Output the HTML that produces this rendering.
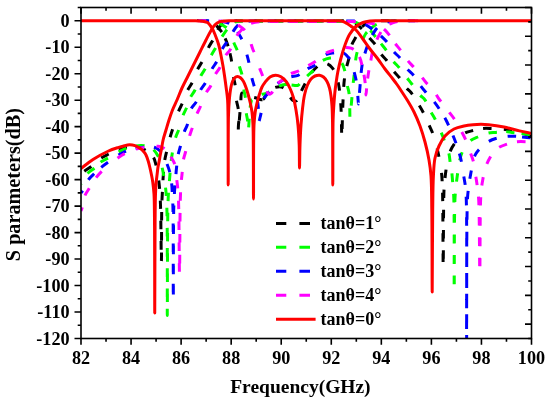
<!DOCTYPE html>
<html><head><meta charset="utf-8"><style>
html,body{margin:0;padding:0;background:#fff;width:550px;height:400px;overflow:hidden}
svg{display:block}
</style></head><body>
<svg width="550" height="400" viewBox="0 0 550 400">
<rect width="550" height="400" fill="#fff"/>
<clipPath id="pc"><rect x="81.0" y="4.5" width="450.5" height="334.0"/></clipPath>
<g clip-path="url(#pc)" fill="none" stroke-linejoin="round"><path id="k21" d="M81.00,173.50C82.10,172.73 82.96,172.12 84.30,171.20C86.37,169.77 89.58,167.85 92.25,165.80C95.22,163.51 98.27,160.05 101.25,158.00C103.77,156.27 106.07,155.36 108.75,154.00C111.77,152.47 115.41,150.44 118.50,149.30C121.12,148.33 123.53,147.75 126.00,147.30C128.36,146.87 130.67,146.57 133.00,146.60C135.34,146.63 137.81,146.83 140.00,147.50C142.14,148.15 144.24,149.42 146.00,150.50C147.52,151.44 148.76,152.38 150.00,153.50C151.26,154.63 152.58,155.70 153.50,157.25C154.59,159.08 155.10,161.64 155.75,164.00C156.45,166.54 157.00,169.28 157.50,172.00C158.01,174.78 158.39,177.58 158.75,180.50C159.13,183.57 159.43,186.47 159.70,190.00C160.04,194.43 160.27,198.41 160.50,205.00C160.94,217.73 161.18,261.00 161.40,261.00C161.62,261.00 161.46,217.73 161.80,205.00C161.98,198.41 162.25,194.91 162.50,190.00C162.74,185.25 162.89,180.80 163.25,176.00C163.63,170.90 164.02,164.92 164.75,160.25C165.35,156.45 166.18,153.58 167.00,150.00C167.91,146.04 168.84,141.65 170.00,137.50C171.17,133.31 172.61,129.24 174.00,125.00C175.44,120.58 176.92,115.44 178.50,111.50C179.78,108.30 181.14,106.13 182.50,103.00C184.13,99.26 185.68,94.21 187.50,90.50C189.06,87.33 190.94,85.17 192.50,82.00C194.32,78.29 195.68,73.21 197.50,69.50C199.06,66.33 200.87,64.19 202.50,61.00C204.46,57.17 206.26,51.89 208.25,48.00C209.95,44.67 212.03,41.78 213.50,39.00C214.72,36.68 215.57,34.59 216.60,32.50C217.57,30.53 218.35,28.41 219.50,26.80C220.52,25.37 221.61,24.08 223.00,23.20C224.43,22.30 226.17,21.88 228.00,21.50C230.11,21.06 232.86,20.99 235.00,20.90C236.80,20.82 237.47,20.90 240.00,20.90C248.01,20.90 273.33,20.90 290.00,20.90C306.67,20.90 331.99,20.90 340.00,20.90C342.53,20.90 343.21,20.70 345.00,20.90C347.15,21.14 349.80,21.71 352.00,22.50C354.13,23.26 356.13,24.22 358.00,25.50C359.97,26.85 361.72,28.60 363.50,30.50C365.48,32.62 367.28,35.40 369.25,37.75C371.20,40.07 373.43,41.99 375.25,44.50C377.21,47.20 378.54,50.80 380.50,53.50C382.32,56.01 384.54,57.67 386.50,60.25C388.80,63.29 390.95,67.71 393.25,70.75C395.21,73.33 397.27,74.96 399.25,77.50C401.53,80.44 403.79,84.82 406.00,87.50C407.69,89.55 409.26,90.34 411.00,92.50C413.52,95.63 416.83,101.41 419.00,105.00C420.60,107.65 421.59,109.27 423.00,112.00C424.87,115.63 427.21,121.06 429.00,125.00C430.48,128.27 431.77,130.62 433.00,134.00C434.49,138.11 435.94,143.83 437.00,148.00C437.84,151.32 438.35,153.58 439.00,157.00C439.85,161.46 440.92,167.16 441.50,172.50C442.11,178.14 442.24,182.11 442.50,190.00C443.04,206.42 442.95,266.00 443.20,266.00C443.45,266.00 443.31,204.18 444.00,190.00C444.27,184.47 444.64,182.04 445.00,178.50C445.31,175.45 445.55,173.01 446.00,170.00C446.51,166.56 447.25,162.28 448.00,159.00C448.61,156.30 448.94,154.20 450.00,151.70C451.25,148.73 453.13,145.44 455.40,142.50C457.92,139.24 461.60,135.11 464.70,133.20C467.00,131.78 469.02,131.61 471.60,130.90C474.80,130.02 479.00,128.88 482.50,128.50C485.68,128.15 488.46,128.39 491.70,128.50C495.34,128.63 499.92,128.99 503.30,129.30C505.93,129.54 507.74,129.63 510.30,130.10C513.51,130.69 517.36,131.68 521.00,132.80C524.92,134.01 529.00,135.73 533.00,137.20" stroke="#000" stroke-width="3" stroke-dasharray="0.00 4.00 8.50 13.00 8.50 11.00 8.50 10.88 8.50 10.88 8.50 15.25 8.50 11.67 8.50 11.67 8.50 11.67 8.50 11.67 8.50 11.67 8.50 11.67 8.50 11.67 8.50 11.67 8.50 11.67 8.50 15.00 8.50 18.75 8.50 14.75 8.50 14.50 8.50 15.50 8.50 11.72 8.50 11.72 8.50 11.72 8.50 11.72 8.50 11.72 8.50 11.72 8.50 11.72 8.50 11.72 8.50 11.72 8.50 12.00 8.50 13.00 8.50 12.50 8.50 12.75 8.50 13.75 8.50 16.00 8.50 16.25 8.50 11.64 8.50 11.64 8.50 11.64 8.50 11.64 8.50 11.64 8.50 11.64 8.50 11.64 8.50 11.64 8.50 11.64 8.50 18.75 8.50 15.50 8.50 10.00 8.50 12.25 8.50 12.00 8.50 12.00 8.50 12.00"/>
<path id="k11" d="M190.00,20.75C196.00,20.75 204.20,20.04 208.00,20.75C209.86,21.10 210.70,21.56 212.00,22.30C213.46,23.12 214.98,24.40 216.25,25.60C217.47,26.74 218.45,28.04 219.50,29.30C220.54,30.54 221.56,31.62 222.50,33.10C223.63,34.89 224.66,37.17 225.60,39.40C226.61,41.79 227.49,44.34 228.30,47.00C229.17,49.85 229.97,53.08 230.60,56.00C231.19,58.73 231.57,61.00 232.00,64.00C232.55,67.80 232.88,73.08 233.50,77.00C234.02,80.29 234.83,82.62 235.30,86.00C235.90,90.27 235.90,96.57 236.50,100.60C236.93,103.50 237.66,105.41 238.10,108.00C238.58,110.82 239.16,114.06 239.20,116.90C239.24,119.50 238.65,121.98 238.50,124.40C238.36,126.67 238.22,131.00 238.30,131.00C238.41,131.01 239.11,122.41 239.50,118.00C239.91,113.42 240.27,108.38 240.70,104.00C241.08,100.11 240.68,93.86 241.90,93.00C242.44,92.62 243.21,93.21 244.00,93.50C245.14,93.91 246.65,94.91 248.00,95.50C249.32,96.07 250.63,96.58 252.00,97.00C253.38,97.42 254.89,97.57 256.25,98.00C257.56,98.41 258.80,99.27 260.00,99.50C261.04,99.70 262.11,99.98 263.00,99.50C264.20,98.86 264.87,96.46 266.00,95.00C267.19,93.46 268.49,91.76 270.00,90.50C271.49,89.26 273.15,88.09 275.00,87.50C276.96,86.88 279.66,86.55 281.50,87.00C283.07,87.39 284.26,88.25 285.50,89.50C287.18,91.20 288.58,94.91 290.00,96.90C291.04,98.36 291.87,99.85 293.00,100.50C293.91,101.02 295.12,101.41 296.00,101.00C297.22,100.44 298.11,97.67 299.00,96.00C299.85,94.42 300.43,92.94 301.25,91.25C302.20,89.30 303.11,87.40 304.40,85.00C306.21,81.65 308.98,76.24 311.25,73.10C312.93,70.78 314.53,69.11 316.25,67.50C317.79,66.06 319.21,64.42 321.00,63.80C322.77,63.18 325.06,63.13 326.90,63.75C328.92,64.43 331.07,66.31 332.50,68.10C333.93,69.89 334.57,72.12 335.50,74.50C336.60,77.32 337.74,80.55 338.50,84.00C339.38,87.96 339.76,92.50 340.20,97.00C340.67,101.81 340.94,106.36 341.20,112.00C341.53,119.27 341.57,137.00 341.80,137.00C342.03,137.00 342.32,119.53 342.60,112.00C342.83,105.79 343.00,100.49 343.30,95.00C343.58,89.84 343.72,84.76 344.30,80.00C344.83,75.63 345.68,71.25 346.50,67.50C347.19,64.38 347.99,62.20 348.75,59.00C349.73,54.92 350.29,49.00 351.75,45.00C352.94,41.72 354.87,39.08 356.25,36.50C357.42,34.32 358.32,32.31 359.50,30.50C360.58,28.84 361.69,27.24 363.00,26.00C364.21,24.85 365.53,23.90 367.00,23.20C368.52,22.48 370.12,22.18 372.00,21.80C374.34,21.33 376.73,21.01 380.00,20.80C385.16,20.47 393.33,20.77 400.00,20.75" stroke="#000" stroke-width="3" stroke-dasharray="0.00 7.25 8.50 12.00 8.50 7.12 8.50 7.12 8.50 15.50 8.50 15.50 8.50 12.00 8.50 12.00 8.50 12.00 8.50 12.00 8.50 0.75 8.50 9.00 8.50 11.75 8.50 10.25 8.50 12.25 8.50 11.25 8.50 13.50 8.50 12.46 8.50 12.46 8.50 12.46 8.50 12.46 8.50 12.46 8.50 12.46 8.50 13.75 8.50 12.00 8.50 12.00 8.50 12.00 8.50 12.00"/>
<path id="g21" d="M81.00,184.00C82.00,182.00 82.82,179.85 84.00,178.00C85.16,176.19 86.31,174.64 88.00,173.00C90.11,170.95 93.78,168.98 96.00,167.00C97.80,165.39 98.64,163.64 100.50,162.20C102.73,160.48 105.90,159.31 108.75,157.70C111.88,155.93 115.43,153.61 118.50,152.00C121.13,150.62 123.51,149.43 126.00,148.50C128.34,147.63 130.57,147.00 133.00,146.50C135.56,145.98 138.42,145.48 141.00,145.50C143.41,145.52 145.87,145.75 148.00,146.50C150.02,147.21 151.84,148.21 153.50,149.75C155.49,151.59 157.40,154.63 158.75,157.25C160.03,159.73 160.75,162.37 161.50,165.00C162.25,167.62 162.72,170.25 163.25,173.00C163.81,175.90 164.30,178.92 164.75,182.00C165.22,185.24 165.66,188.05 166.00,192.00C166.49,197.71 166.76,203.36 167.00,213.00C167.54,234.29 167.17,315.50 167.30,315.50C167.43,315.50 167.39,234.29 167.80,213.00C167.98,203.36 168.15,198.02 168.50,192.00C168.77,187.44 169.17,184.00 169.50,180.00C169.83,176.00 170.10,172.08 170.50,168.00C170.92,163.75 171.26,159.61 172.00,155.00C172.85,149.70 174.11,142.72 175.50,138.00C176.54,134.48 177.86,132.33 179.00,129.00C180.37,124.98 181.63,119.15 183.00,115.50C183.98,112.90 184.94,111.52 186.00,109.00C187.42,105.63 188.90,100.39 190.60,97.00C191.96,94.28 193.54,92.83 195.00,90.00C197.01,86.10 198.92,79.55 201.00,75.50C202.62,72.36 204.42,70.50 206.00,67.50C207.87,63.96 209.39,59.16 211.25,55.50C212.91,52.23 214.75,49.56 216.50,46.50C218.30,43.36 220.01,39.93 221.90,36.90C223.69,34.03 225.67,31.13 227.50,28.75C229.03,26.76 230.06,24.78 232.00,23.50C234.13,22.09 237.62,21.36 240.00,21.00C241.84,20.72 242.44,21.00 245.00,21.00C253.49,21.00 282.59,21.00 300.00,21.00C315.75,21.00 337.50,21.00 345.00,21.00C347.50,21.00 348.16,20.74 350.00,21.00C352.38,21.33 355.57,22.32 358.00,23.30C360.19,24.19 362.02,25.35 364.00,26.50C366.02,27.67 368.24,28.74 370.00,30.25C371.74,31.74 372.91,33.58 374.50,35.50C376.37,37.76 378.50,40.50 380.50,43.00C382.50,45.50 384.58,47.77 386.50,50.50C388.60,53.48 390.30,57.30 392.50,60.25C394.57,63.02 396.99,65.04 399.25,67.75C401.74,70.74 404.47,74.55 406.75,77.50C408.65,79.96 410.08,81.73 412.00,84.25C414.40,87.41 417.55,92.16 420.00,95.00C421.78,97.06 423.42,97.81 425.00,100.00C427.17,103.01 429.16,108.56 431.00,112.00C432.43,114.67 433.59,116.27 435.00,119.00C436.87,122.63 439.57,128.67 441.00,132.00C441.88,134.04 442.18,134.85 443.00,137.00C444.45,140.82 447.55,148.27 448.75,153.00C449.67,156.60 449.76,159.74 450.25,162.75C450.67,165.35 451.14,167.38 451.50,170.00C451.92,173.06 452.17,176.18 452.50,180.00C452.94,185.12 453.48,189.67 453.80,198.00C454.52,216.80 454.00,290.00 454.20,290.00C454.40,290.00 454.08,216.04 455.00,198.00C455.39,190.46 455.97,186.71 456.50,182.00C456.92,178.27 457.31,175.41 457.80,172.00C458.31,168.42 458.69,164.48 459.50,161.00C460.26,157.74 461.17,154.35 462.40,151.70C463.42,149.49 464.71,147.81 466.00,146.00C467.28,144.21 468.33,142.34 470.10,140.90C472.13,139.25 475.02,138.22 477.80,137.00C480.90,135.63 484.72,133.95 487.90,133.20C490.60,132.56 492.86,132.65 495.60,132.40C498.71,132.11 502.67,131.53 505.60,131.60C507.92,131.66 509.53,132.13 511.80,132.40C514.56,132.73 517.73,133.00 521.00,133.40C524.74,133.85 529.00,134.47 533.00,135.00" stroke="#00ff00" stroke-width="3" stroke-dasharray="0.50 12.00 8.50 8.75 8.50 12.25 8.50 10.00 8.50 10.00 8.50 11.69 8.50 11.69 8.50 11.69 8.50 11.69 8.50 11.69 8.50 11.69 8.50 11.69 8.50 11.69 8.50 11.69 8.50 11.69 8.50 11.69 8.50 11.69 8.50 11.69 8.50 11.69 8.50 11.69 8.50 11.69 8.50 15.00 8.50 15.25 8.50 11.50 8.50 14.75 8.50 14.75 8.50 13.00 8.50 11.19 8.50 11.19 8.50 11.19 8.50 11.19 8.50 11.19 8.50 11.19 8.50 11.19 8.50 11.19 8.50 8.50 8.50 13.50 8.50 13.00 8.50 13.00 8.50 12.00 8.50 14.00 8.50 13.75 8.50 11.94 8.50 11.94 8.50 11.94 8.50 11.94 8.50 11.94 8.50 11.94 8.50 11.94 8.50 11.94 8.50 11.94 8.50 11.94 8.50 11.94 8.50 11.94 8.50 13.00 8.50 14.50 8.50 11.00 8.50 9.25 8.50 7.00 8.50 12.00 8.50 12.00"/>
<path id="g11" d="M190.00,20.75C197.33,20.80 207.65,20.15 212.00,20.90C213.91,21.23 214.67,21.80 216.00,22.30C217.34,22.80 218.68,23.29 220.00,23.90C221.35,24.52 222.70,25.19 224.00,26.00C225.36,26.85 226.82,27.63 228.00,28.90C229.37,30.37 230.57,32.39 231.50,34.50C232.55,36.86 232.80,39.81 233.75,42.50C234.77,45.38 236.58,47.87 237.50,51.25C238.66,55.51 238.49,62.04 239.40,66.25C240.08,69.41 241.23,71.24 241.90,74.40C242.80,78.61 243.04,85.00 243.75,89.40C244.31,92.89 245.18,95.29 245.60,98.75C246.11,102.98 245.81,109.10 246.25,113.00C246.56,115.76 247.17,117.45 247.50,120.00C247.89,123.03 248.01,130.00 248.30,130.00C248.66,130.00 249.10,119.49 249.50,115.00C249.83,111.33 249.98,107.82 250.50,105.00C250.89,102.88 251.11,100.18 252.00,99.50C252.53,99.10 253.30,99.71 254.00,99.50C254.94,99.22 255.92,98.25 257.00,97.50C258.30,96.59 259.69,95.07 261.25,94.40C262.78,93.75 264.58,94.13 266.25,93.50C268.17,92.77 269.99,91.17 272.00,90.00C274.15,88.75 276.49,87.18 278.75,86.25C280.82,85.40 282.90,84.70 285.00,84.50C287.07,84.30 289.13,84.87 291.25,85.00C293.46,85.14 296.17,86.05 298.00,85.30C299.70,84.60 300.58,82.45 302.00,81.00C303.53,79.44 305.16,77.89 306.90,76.25C308.83,74.43 311.22,72.60 313.10,70.60C314.91,68.67 316.32,66.24 318.00,64.50C319.47,62.98 320.69,61.63 322.50,60.60C324.59,59.41 327.61,58.41 330.00,58.10C332.08,57.83 334.13,57.81 336.00,58.50C338.02,59.25 340.17,60.83 341.60,62.70C343.16,64.74 343.84,67.43 344.70,70.50C345.86,74.64 346.44,81.64 347.25,85.50C347.77,87.96 348.37,89.31 348.75,91.50C349.20,94.07 349.42,97.05 349.60,100.00C349.79,103.19 349.73,106.85 349.80,110.00C349.86,112.82 349.83,117.99 350.00,118.00C350.17,118.01 350.53,112.82 350.80,110.00C351.10,106.85 351.38,103.67 351.70,100.00C352.10,95.51 352.51,89.82 353.00,85.00C353.45,80.51 353.99,76.56 354.50,72.00C355.07,66.94 355.40,60.39 356.25,56.00C356.86,52.85 357.49,50.62 358.50,48.00C359.55,45.28 361.26,42.48 362.50,40.00C363.57,37.86 364.26,35.78 365.50,34.00C366.69,32.29 368.21,30.94 369.75,29.50C371.36,28.00 373.10,26.36 375.00,25.20C376.86,24.07 378.76,23.29 381.00,22.60C383.66,21.78 386.39,21.25 390.00,20.90C395.33,20.38 403.33,20.80 410.00,20.75" stroke="#00ff00" stroke-width="3" stroke-dasharray="0.00 9.25 8.50 12.00 8.50 16.75 8.50 16.25 8.50 15.00 8.50 15.50 8.50 11.17 8.50 11.17 8.50 11.17 8.50 11.00 8.50 4.25 8.50 11.00 8.50 13.75 8.50 12.75 8.50 15.00 8.50 14.00 8.50 14.00 8.50 14.00 8.50 14.00 8.50 14.00 8.50 4.00 8.50 12.00 8.50 12.00 8.50 12.00 8.50 12.00"/>
<path id="b21" d="M81.00,193.00C81.67,192.00 82.19,191.34 83.00,190.00C84.51,187.51 86.76,181.99 89.00,179.00C90.84,176.54 92.96,174.95 95.00,173.00C97.04,171.05 99.02,169.13 101.25,167.30C103.59,165.38 106.07,163.67 108.75,161.75C111.77,159.59 115.41,156.88 118.50,155.00C121.12,153.40 123.49,152.05 126.00,151.00C128.33,150.02 130.57,149.38 133.00,148.80C135.56,148.19 138.25,147.88 141.00,147.50C143.91,147.10 147.26,146.29 150.00,146.50C152.36,146.68 154.53,147.21 156.50,148.25C158.55,149.34 160.40,150.87 162.00,153.00C164.06,155.75 165.62,160.48 167.00,164.00C168.22,167.12 169.25,169.97 170.00,173.00C170.74,175.97 171.11,178.71 171.50,182.00C171.96,185.93 172.15,190.51 172.40,195.00C172.66,199.82 172.85,202.91 173.00,210.00C173.37,227.27 173.18,299.00 173.30,299.00C173.42,299.00 173.25,228.40 173.70,210.00C173.90,201.72 174.16,197.39 174.50,192.00C174.78,187.59 175.17,184.00 175.50,180.00C175.83,176.00 176.07,172.13 176.50,168.00C176.97,163.57 177.46,158.23 178.25,154.25C178.87,151.13 179.66,149.13 180.50,146.00C181.60,141.90 182.90,135.58 184.25,131.75C185.20,129.04 186.30,127.79 187.25,125.00C188.69,120.80 189.33,112.88 191.25,108.75C192.62,105.81 194.80,104.62 196.25,101.90C198.02,98.58 198.86,93.42 200.60,90.00C202.06,87.11 203.94,85.44 205.60,82.50C207.74,78.72 209.85,72.89 212.00,69.00C213.74,65.85 215.64,63.82 217.25,60.75C219.09,57.25 220.45,52.27 222.20,49.00C223.57,46.44 224.98,44.92 226.50,42.50C228.36,39.54 230.53,35.49 232.50,32.50C234.19,29.95 235.58,27.31 237.50,25.60C239.15,24.13 240.99,23.25 243.00,22.50C245.14,21.71 247.85,21.31 250.00,21.10C251.80,20.92 252.50,21.10 255.00,21.10C262.50,21.10 284.60,21.10 300.00,21.10C316.23,21.10 341.99,21.10 350.00,21.10C352.53,21.10 353.21,20.86 355.00,21.10C357.16,21.39 360.02,22.25 362.00,23.00C363.55,23.59 364.68,24.26 366.00,25.00C367.35,25.76 368.50,26.53 370.00,27.50C371.97,28.77 374.88,30.52 376.75,32.00C378.24,33.18 379.12,34.16 380.50,35.50C382.28,37.22 384.54,39.16 386.50,41.50C388.81,44.27 390.86,48.39 393.25,51.25C395.39,53.81 397.88,55.37 400.00,58.00C402.42,61.01 404.33,65.49 406.75,68.50C408.87,71.13 411.39,72.68 413.50,75.25C415.84,78.10 417.81,82.01 420.00,85.00C421.98,87.71 423.82,89.92 426.00,92.50C428.44,95.39 431.60,98.48 434.00,101.50C436.23,104.31 438.05,107.01 440.00,110.00C442.06,113.16 443.98,116.11 446.00,120.00C448.63,125.06 451.71,132.23 454.00,138.00C456.06,143.18 457.94,148.61 459.25,153.00C460.25,156.36 460.82,158.64 461.50,162.00C462.35,166.19 463.07,172.04 463.75,176.25C464.29,179.59 464.85,181.87 465.25,185.25C465.76,189.55 466.03,192.56 466.30,200.00C467.14,223.07 466.42,342.00 466.60,342.00C466.78,342.00 466.37,221.31 467.40,200.00C467.70,193.79 468.07,191.68 468.50,188.00C468.87,184.85 469.28,182.12 469.75,179.25C470.20,176.46 470.72,173.95 471.25,171.00C471.86,167.60 472.26,163.14 473.20,160.00C473.95,157.50 474.95,155.28 476.00,153.50C476.83,152.09 477.59,151.22 478.70,150.00C480.12,148.43 482.26,146.48 484.00,145.00C485.55,143.68 486.82,142.53 488.60,141.50C490.67,140.31 493.08,139.31 495.80,138.50C499.12,137.51 503.66,136.74 507.20,136.40C510.23,136.11 513.09,136.17 515.70,136.30C517.93,136.41 519.53,136.76 521.90,137.00C525.06,137.32 529.30,137.67 533.00,138.00" stroke="#0000ff" stroke-width="3" stroke-dasharray="3.00 12.00 8.50 9.50 8.50 12.75 8.50 10.00 8.50 10.00 8.50 13.75 8.50 11.55 8.50 11.55 8.50 11.55 8.50 11.55 8.50 11.55 8.50 11.55 8.50 11.55 8.50 11.55 8.50 11.55 8.50 11.55 8.50 11.55 8.50 11.55 8.50 11.55 8.50 11.55 8.50 14.75 8.50 15.75 8.50 12.50 8.50 15.50 8.50 14.00 8.50 11.75 8.50 11.06 8.50 11.06 8.50 11.06 8.50 11.06 8.50 11.06 8.50 11.06 8.50 11.06 8.50 11.06 8.50 12.25 8.50 13.75 8.50 12.75 8.50 12.25 8.50 10.75 8.50 10.75 8.50 10.75 8.50 15.00 8.50 12.06 8.50 12.06 8.50 12.06 8.50 12.06 8.50 12.06 8.50 12.06 8.50 12.06 8.50 12.06 8.50 12.06 8.50 12.06 8.50 12.06 8.50 12.06 8.50 12.06 8.50 12.06 8.50 12.06 8.50 12.06 8.50 14.25 8.50 12.75 8.50 11.00 8.50 6.00 8.50 12.00 8.50 12.00"/>
<path id="b11" d="M190.00,20.75C200.00,20.83 213.84,20.31 220.00,21.00C222.79,21.31 224.12,21.69 226.00,22.30C227.77,22.88 229.55,23.54 231.00,24.50C232.36,25.40 233.43,26.59 234.50,27.80C235.60,29.05 236.42,30.24 237.50,31.90C239.01,34.23 241.11,37.46 242.50,40.60C243.98,43.96 244.94,47.91 246.00,51.50C247.02,54.97 247.87,57.96 248.75,61.80C249.85,66.57 250.81,73.42 251.90,78.00C252.71,81.43 253.59,83.76 254.40,86.90C255.30,90.39 256.33,94.31 257.00,98.00C257.65,101.60 258.11,104.97 258.40,108.75C258.72,112.93 258.17,121.93 258.70,122.00C259.03,122.04 259.72,118.87 260.20,117.00C260.80,114.66 261.34,111.82 261.90,109.00C262.52,105.86 262.60,101.70 263.75,99.00C264.66,96.85 266.13,95.41 267.50,93.75C268.88,92.08 270.40,90.60 272.00,89.00C273.72,87.27 275.60,85.29 277.50,83.75C279.28,82.31 281.28,81.01 283.00,80.00C284.41,79.17 285.62,78.55 287.00,78.00C288.37,77.45 289.66,77.10 291.25,76.70C293.23,76.21 295.99,76.23 298.00,75.40C299.88,74.62 301.38,73.11 303.00,72.00C304.54,70.95 305.77,69.92 307.50,68.90C309.64,67.64 312.85,66.69 315.00,65.20C316.95,63.85 318.30,62.16 320.00,60.50C321.83,58.71 323.39,56.07 325.60,54.80C327.77,53.55 330.73,53.28 333.10,52.90C335.17,52.57 337.14,52.47 339.00,52.50C340.67,52.53 342.40,52.39 343.75,53.00C345.05,53.59 346.01,55.01 347.00,56.00C347.91,56.91 348.74,57.58 349.50,58.70C350.46,60.11 351.28,62.04 352.00,64.00C352.82,66.25 353.33,68.86 354.00,71.50C354.74,74.43 355.68,77.54 356.25,80.80C356.87,84.34 357.18,88.58 357.50,92.00C357.77,94.89 357.91,97.79 358.10,100.00C358.24,101.56 358.35,104.00 358.50,104.00C358.71,104.00 358.95,98.94 359.20,96.00C359.51,92.40 359.87,88.00 360.20,84.00C360.53,80.00 360.73,75.99 361.20,72.00C361.67,67.99 362.28,63.29 363.00,60.00C363.52,57.64 364.11,56.07 364.75,54.00C365.44,51.75 366.16,49.17 367.00,47.00C367.76,45.03 368.65,43.37 369.50,41.50C370.39,39.54 371.27,37.41 372.25,35.50C373.19,33.67 374.09,31.81 375.25,30.25C376.35,28.77 377.56,27.42 379.00,26.30C380.47,25.16 382.09,24.32 384.00,23.50C386.31,22.50 388.60,21.54 392.00,21.00C397.64,20.11 407.33,20.83 415.00,20.75" stroke="#0000ff" stroke-width="3" stroke-dasharray="0.00 10.50 8.50 12.00 8.50 12.00 8.50 16.25 8.50 15.50 8.50 14.42 8.50 14.42 8.50 14.42 8.50 11.75 8.50 7.00 8.50 10.00 8.50 14.75 8.50 9.75 8.50 14.00 8.50 15.25 8.50 11.31 8.50 11.31 8.50 11.31 8.50 11.31 8.50 12.00 8.50 12.00 8.50 12.00 8.50 12.00"/>
<path id="m21" d="M81.00,211.00C81.33,210.00 81.61,209.35 82.00,208.00C82.78,205.27 83.58,199.01 85.00,195.50C86.14,192.67 87.64,190.91 89.25,188.30C91.21,185.11 93.70,180.85 96.00,177.80C97.96,175.20 99.84,173.02 102.00,171.00C104.10,169.04 106.32,167.77 108.75,165.80C111.73,163.39 115.37,159.75 118.50,157.50C121.08,155.64 123.50,154.28 126.00,153.00C128.33,151.81 130.55,150.82 133.00,150.00C135.54,149.14 138.24,148.50 141.00,148.00C143.89,147.48 147.25,147.36 150.00,147.00C152.35,146.69 154.39,145.90 156.50,146.00C158.55,146.09 160.72,146.64 162.50,147.50C164.21,148.33 165.66,149.58 167.00,151.00C168.44,152.54 169.51,154.39 170.75,156.50C172.27,159.09 174.24,162.05 175.25,165.50C176.45,169.61 176.32,175.97 176.75,179.75C177.03,182.26 177.26,183.50 177.50,186.00C177.86,189.73 178.22,193.50 178.50,200.00C179.13,214.90 179.20,273.60 179.50,273.60C179.80,273.60 179.81,216.23 180.30,200.00C180.54,191.97 180.83,186.70 181.20,182.00C181.44,178.96 181.70,177.43 182.00,174.50C182.43,170.36 182.72,163.73 183.50,159.50C184.09,156.31 184.92,154.41 185.75,151.25C186.86,147.00 188.24,140.59 189.50,136.25C190.49,132.85 191.48,130.42 192.50,127.25C193.64,123.71 194.66,119.45 196.00,116.00C197.20,112.92 198.80,110.26 200.00,107.50C201.11,104.94 201.96,102.49 203.00,100.00C204.04,97.49 204.96,94.86 206.25,92.50C207.51,90.20 209.27,88.53 210.60,86.00C212.24,82.89 213.34,78.15 215.00,75.00C216.37,72.39 217.98,70.91 219.50,68.25C221.50,64.75 223.55,58.88 225.60,55.60C227.06,53.26 228.54,52.38 230.00,50.00C232.10,46.57 234.02,40.08 236.25,36.50C237.92,33.82 239.59,31.94 241.50,30.00C243.35,28.12 245.26,26.28 247.50,25.00C249.76,23.71 252.28,22.90 255.00,22.30C258.05,21.62 262.24,21.52 265.00,21.40C266.95,21.31 267.54,21.40 270.00,21.40C276.97,21.40 296.27,21.40 310.00,21.40C324.56,21.40 347.50,21.40 355.00,21.40C357.50,21.40 358.15,21.24 360.00,21.40C362.36,21.61 365.42,22.35 368.00,22.80C370.41,23.22 372.85,23.34 375.00,24.00C376.99,24.61 378.66,25.31 380.50,26.50C382.75,27.96 385.07,30.08 387.25,32.50C389.85,35.40 392.35,39.82 394.75,43.00C396.82,45.74 398.74,47.80 400.75,50.50C402.99,53.50 405.15,57.28 407.50,60.25C409.67,62.99 412.03,65.16 414.25,67.75C416.53,70.41 418.94,73.40 421.00,76.00C422.81,78.28 424.07,80.24 426.00,82.50C428.30,85.20 431.76,88.10 434.00,91.00C436.01,93.61 437.25,96.58 439.00,99.00C440.60,101.20 442.37,102.89 444.00,105.00C445.71,107.21 447.24,109.60 449.00,112.00C450.89,114.59 453.04,117.02 455.00,120.00C457.26,123.45 459.73,128.09 461.60,131.60C463.11,134.43 464.20,136.40 465.50,139.40C467.17,143.27 469.07,148.92 470.50,153.00C471.66,156.30 472.68,158.62 473.50,162.00C474.52,166.17 475.08,171.95 475.75,176.25C476.30,179.81 476.79,182.45 477.25,186.00C477.80,190.24 478.32,193.51 478.70,200.00C479.57,214.68 479.48,272.00 479.80,272.00C480.12,272.00 479.92,214.68 480.60,200.00C480.90,193.52 481.24,190.14 481.75,186.00C482.16,182.66 482.71,180.00 483.25,177.00C483.79,174.00 484.23,170.45 485.00,168.00C485.57,166.20 486.30,164.99 487.00,163.50C487.71,161.99 488.36,160.59 489.25,159.00C490.30,157.12 491.48,154.86 493.00,153.00C494.60,151.04 496.51,149.04 498.70,147.60C500.96,146.11 503.63,145.23 506.40,144.30C509.48,143.26 512.81,142.24 516.40,141.80C520.44,141.30 526.52,141.80 529.50,141.80C531.04,141.80 531.83,141.80 533.00,141.80" stroke="#ff00ff" stroke-width="3" stroke-dasharray="4.00 12.00 8.50 12.50 8.50 20.50 8.50 12.25 8.50 12.25 8.50 10.25 8.50 16.00 8.50 12.30 8.50 12.30 8.50 12.30 8.50 12.30 8.50 12.30 8.50 12.30 8.50 12.30 8.50 12.30 8.50 12.30 8.50 12.30 8.50 15.75 8.50 14.88 8.50 14.88 8.50 12.00 8.50 13.00 8.50 14.00 8.50 10.75 8.50 10.75 8.50 10.75 8.50 10.75 8.50 10.75 8.50 10.75 8.50 10.75 8.50 10.75 8.50 10.00 8.50 12.75 8.50 13.50 8.50 13.62 8.50 13.62 8.50 14.75 8.50 14.75 8.50 15.50 8.50 11.72 8.50 11.72 8.50 11.72 8.50 11.72 8.50 11.72 8.50 11.72 8.50 11.72 8.50 11.72 8.50 11.72 8.50 13.75 8.50 12.50 8.50 10.25 8.50 12.00 8.50 12.00"/>
<path id="m11" d="M190.00,20.75C200.67,20.90 214.90,20.62 222.00,21.20C225.57,21.49 227.65,21.97 230.00,22.40C231.87,22.75 233.48,22.96 235.00,23.50C236.37,23.99 237.39,24.52 238.75,25.40C240.63,26.62 243.30,28.44 245.00,30.50C246.74,32.62 247.76,35.15 249.00,38.00C250.51,41.48 251.80,46.90 253.10,50.00C253.96,52.06 254.77,52.91 255.60,55.00C256.87,58.19 258.07,63.61 259.40,67.50C260.59,70.99 262.00,73.82 263.10,77.30C264.31,81.11 265.12,86.47 266.25,89.50C266.97,91.41 267.48,93.53 268.50,94.00C269.27,94.35 270.42,93.94 271.25,93.30C272.53,92.32 273.38,89.24 274.50,87.50C275.48,85.98 276.21,84.62 277.50,83.40C278.96,82.01 281.05,81.19 283.00,79.80C285.36,78.12 287.97,75.36 290.60,73.90C292.98,72.58 295.80,72.17 298.00,71.20C299.86,70.38 301.34,69.52 303.00,68.60C304.70,67.66 306.26,66.65 308.10,65.60C310.22,64.39 312.95,63.22 315.00,61.80C316.88,60.50 318.27,58.91 320.00,57.50C321.79,56.04 323.54,54.34 325.60,53.20C327.70,52.03 330.22,51.40 332.50,50.60C334.69,49.83 336.86,49.00 339.00,48.50C341.02,48.03 343.00,47.65 345.00,47.60C347.00,47.55 349.21,47.59 351.00,48.20C352.68,48.77 354.16,49.72 355.50,51.00C357.05,52.47 358.40,54.46 359.50,56.80C360.88,59.73 361.66,63.93 362.50,67.50C363.32,71.00 363.98,74.73 364.50,78.00C364.95,80.84 365.25,83.25 365.50,86.00C365.76,88.91 365.78,95.00 366.00,95.00C366.22,95.00 366.48,89.08 366.80,86.00C367.14,82.75 367.56,79.14 368.00,76.00C368.40,73.18 368.82,70.57 369.30,68.00C369.75,65.58 370.28,63.43 370.75,61.00C371.26,58.37 371.59,55.34 372.25,52.75C372.86,50.36 373.73,48.18 374.50,46.00C375.23,43.93 375.89,41.98 376.75,40.00C377.63,37.98 378.67,35.88 379.75,34.00C380.77,32.23 381.76,30.47 383.00,29.00C384.19,27.59 385.50,26.27 387.00,25.30C388.50,24.34 390.11,23.83 392.00,23.20C394.33,22.42 396.70,21.64 400.00,21.20C405.14,20.51 413.33,20.90 420.00,20.75" stroke="#ff00ff" stroke-width="3" stroke-dasharray="0.00 7.75 8.50 12.00 8.50 12.00 8.50 15.25 8.50 17.00 8.50 15.75 8.50 10.00 8.50 7.50 8.50 10.75 8.50 13.25 8.50 11.75 8.50 9.50 8.50 9.94 8.50 9.94 8.50 9.94 8.50 9.94 8.50 13.25 8.50 12.00 8.50 12.00 8.50 12.00 8.50 12.00"/>
<path id="r21" d="M79.00,170.00C79.67,169.50 80.05,169.21 81.00,168.50C83.32,166.76 88.67,162.29 93.00,159.50C97.62,156.52 103.43,153.33 108.00,151.25C111.60,149.61 115.22,148.49 118.00,147.60C119.94,146.98 121.22,146.65 123.00,146.20C125.02,145.68 127.42,144.77 129.50,144.70C131.40,144.64 133.26,145.01 135.00,145.60C136.76,146.20 138.49,147.22 140.00,148.30C141.48,149.36 142.95,150.77 144.00,152.00C144.85,153.00 145.38,153.78 146.00,155.00C146.82,156.62 147.57,158.98 148.20,161.00C148.82,162.98 149.24,164.85 149.75,167.00C150.34,169.47 150.99,172.42 151.50,175.00C151.98,177.41 152.38,179.35 152.75,182.00C153.24,185.46 153.71,189.23 154.00,194.00C154.43,201.00 154.38,208.66 154.50,220.00C154.73,241.44 154.65,313.00 154.75,313.00C154.85,313.00 154.89,241.44 155.10,220.00C155.21,208.66 155.24,201.01 155.50,194.00C155.68,189.23 155.89,185.53 156.20,182.00C156.45,179.20 156.80,177.00 157.10,174.50C157.40,172.00 157.62,169.35 158.00,167.00C158.34,164.88 158.82,163.00 159.20,161.00C159.57,159.00 159.87,157.00 160.25,155.00C160.63,153.00 161.07,151.21 161.50,149.00C162.02,146.31 162.39,143.06 163.10,140.00C163.86,136.73 165.02,133.33 166.00,130.00C166.98,126.66 167.92,123.32 169.00,120.00C170.09,116.65 171.18,113.31 172.50,110.00C173.84,106.64 175.49,103.50 177.00,100.00C178.65,96.19 180.18,91.97 182.00,88.00C183.85,83.97 186.00,80.00 188.00,76.00C190.00,72.00 192.00,68.00 194.00,64.00C196.00,60.00 198.00,56.00 200.00,52.00C202.00,48.00 204.12,43.65 206.00,40.00C207.59,36.91 208.93,34.13 210.50,31.50C211.94,29.09 213.32,26.48 215.00,24.80C216.38,23.43 217.85,22.45 219.50,21.80C221.18,21.14 223.20,21.07 225.00,20.90C226.70,20.74 228.33,20.77 230.00,20.75C231.67,20.73 232.44,20.75 235.00,20.75C243.49,20.75 272.69,20.74 290.00,20.75C305.48,20.76 326.60,20.80 334.00,20.80C336.49,20.80 337.43,20.66 339.00,20.80C340.41,20.92 341.70,21.07 343.00,21.50C344.37,21.95 345.69,22.74 347.00,23.50C348.36,24.29 349.61,25.20 351.00,26.20C352.59,27.34 354.34,28.34 356.00,30.00C358.17,32.17 360.28,35.50 362.50,38.50C364.94,41.80 367.46,45.62 370.00,49.00C372.46,52.28 375.04,55.22 377.50,58.50C380.04,61.88 382.46,65.62 385.00,69.00C387.46,72.28 390.33,75.68 392.50,78.50C394.21,80.72 395.57,82.48 397.00,84.50C398.40,86.48 399.51,88.24 401.00,90.50C402.91,93.41 405.39,97.02 407.50,100.50C409.72,104.17 411.98,107.92 414.00,112.00C416.17,116.38 418.20,121.13 420.00,126.00C421.89,131.11 423.53,136.48 425.00,142.00C426.55,147.79 427.99,154.15 429.00,160.00C429.95,165.47 430.53,169.66 431.00,176.00C431.68,185.21 431.60,196.21 431.80,210.00C432.10,231.41 432.05,292.00 432.20,292.00C432.35,292.00 432.41,231.41 432.70,210.00C432.88,196.21 432.88,185.54 433.40,176.00C433.78,169.05 433.89,163.34 435.00,158.00C435.93,153.54 437.28,149.73 439.00,146.00C440.65,142.42 442.48,138.84 445.00,136.00C447.49,133.19 450.75,130.67 454.00,129.00C457.11,127.40 460.73,126.72 464.00,126.00C467.05,125.33 470.08,124.98 473.00,124.70C475.74,124.43 478.37,124.30 481.00,124.30C483.57,124.30 485.63,124.40 488.60,124.70C492.84,125.13 498.88,125.98 504.00,127.00C509.18,128.04 514.50,129.73 519.50,130.90C524.15,131.98 528.50,132.83 533.00,133.80" stroke="#ff0000" stroke-width="3"/>
<path id="r11" d="M79.00,20.75C96.00,20.75 112.31,20.75 130.00,20.75C149.19,20.75 181.04,20.75 190.00,20.75C192.59,20.75 193.17,20.68 195.00,20.75C197.25,20.83 200.27,20.93 202.50,21.30C204.35,21.61 205.98,21.60 207.50,22.60C209.40,23.85 211.21,26.87 212.50,29.00C213.61,30.84 214.13,32.35 215.00,34.50C216.18,37.42 217.70,41.28 218.75,45.00C219.90,49.07 220.74,54.19 221.50,58.00C222.10,60.98 222.53,63.25 223.00,66.00C223.50,68.91 223.92,71.72 224.40,75.00C224.98,78.93 225.66,83.75 226.20,88.00C226.72,92.08 227.30,95.77 227.60,100.00C227.94,104.71 227.90,108.16 228.00,115.00C228.22,129.77 228.12,185.00 228.20,185.00C228.28,185.00 228.07,129.76 228.50,115.00C228.70,108.16 228.88,104.71 229.30,100.00C229.68,95.77 230.15,91.37 230.80,88.00C231.28,85.49 231.77,83.29 232.50,81.50C233.07,80.11 233.61,78.84 234.50,78.00C235.31,77.23 236.49,76.53 237.50,76.50C238.49,76.47 239.58,77.10 240.50,77.80C241.61,78.64 242.63,80.05 243.50,81.50C244.51,83.20 245.23,85.37 246.00,87.50C246.84,89.84 247.59,92.45 248.30,95.00C249.03,97.61 249.70,100.25 250.30,103.00C250.94,105.90 251.56,108.71 252.00,112.00C252.52,115.92 252.74,118.89 253.00,125.00C253.61,139.56 253.33,199.00 253.50,199.00C253.67,199.00 253.28,139.56 254.00,125.00C254.30,118.88 254.63,115.92 255.20,112.00C255.68,108.71 256.29,105.99 257.00,103.00C257.72,99.99 258.61,96.80 259.50,94.00C260.29,91.51 260.99,89.05 262.00,87.00C262.87,85.22 263.79,83.86 265.00,82.30C266.39,80.52 268.13,78.19 270.00,77.00C271.67,75.94 273.66,75.23 275.50,75.20C277.33,75.17 279.28,75.81 281.00,76.80C282.98,77.93 284.95,79.96 286.50,82.00C288.15,84.16 289.35,86.88 290.50,89.50C291.69,92.20 292.63,94.89 293.50,98.00C294.51,101.63 295.28,105.76 296.00,110.00C296.80,114.71 297.48,119.63 298.00,125.00C298.60,131.18 298.95,138.10 299.20,145.00C299.47,152.40 299.37,168.00 299.50,168.00C299.63,168.00 299.73,152.40 300.00,145.00C300.25,138.10 300.54,131.39 301.00,125.00C301.43,119.10 301.97,113.28 302.60,108.00C303.16,103.37 303.61,99.02 304.50,95.00C305.29,91.42 306.26,87.85 307.50,85.00C308.51,82.68 309.61,80.56 311.00,79.00C312.18,77.68 313.55,76.63 315.00,76.00C316.39,75.40 318.07,75.02 319.50,75.20C320.90,75.37 322.31,76.07 323.50,77.00C324.85,78.07 326.03,79.78 327.00,81.50C328.07,83.40 328.84,85.69 329.50,88.00C330.21,90.50 330.59,93.18 331.00,96.00C331.45,99.14 331.75,102.38 332.00,106.00C332.29,110.27 332.37,113.62 332.50,120.00C332.78,133.73 332.70,185.00 332.80,185.00C332.90,185.00 332.73,133.73 333.10,120.00C333.27,113.62 333.51,110.58 333.80,106.00C334.08,101.58 334.38,97.15 334.80,93.00C335.19,89.18 335.69,85.58 336.20,82.00C336.69,78.58 337.13,75.47 337.80,72.00C338.54,68.17 339.40,64.20 340.50,60.00C341.74,55.26 343.36,49.51 345.00,45.00C346.40,41.15 347.64,37.60 349.50,34.50C351.20,31.66 353.18,29.03 355.50,27.00C357.71,25.07 360.46,23.50 363.00,22.50C365.30,21.59 367.65,21.29 370.00,21.00C372.32,20.71 374.76,20.79 377.00,20.75C379.08,20.71 379.67,20.75 383.00,20.75C399.67,20.75 483.00,20.75 533.00,20.75" stroke="#ff0000" stroke-width="3"/></g>
<path d="M81.00,338.50v6.3 M81.00,7.50v6.3 M106.03,338.50v3.3 M106.03,7.50v3.3 M131.06,338.50v6.3 M131.06,7.50v6.3 M156.08,338.50v3.3 M156.08,7.50v3.3 M181.11,338.50v6.3 M181.11,7.50v6.3 M206.14,338.50v3.3 M206.14,7.50v3.3 M231.17,338.50v6.3 M231.17,7.50v6.3 M256.19,338.50v3.3 M256.19,7.50v3.3 M281.22,338.50v6.3 M281.22,7.50v6.3 M306.25,338.50v3.3 M306.25,7.50v3.3 M331.28,338.50v6.3 M331.28,7.50v6.3 M356.31,338.50v3.3 M356.31,7.50v3.3 M381.33,338.50v6.3 M381.33,7.50v6.3 M406.36,338.50v3.3 M406.36,7.50v3.3 M431.39,338.50v6.3 M431.39,7.50v6.3 M456.42,338.50v3.3 M456.42,7.50v3.3 M481.44,338.50v6.3 M481.44,7.50v6.3 M506.47,338.50v3.3 M506.47,7.50v3.3 M531.50,338.50v6.3 M531.50,7.50v6.3 M81.00,7.50h-3.3 M81.00,20.74h-6.5 M81.00,33.98h-3.3 M81.00,47.22h-6.5 M81.00,60.46h-3.3 M81.00,73.70h-6.5 M81.00,86.94h-3.3 M81.00,100.18h-6.5 M81.00,113.42h-3.3 M81.00,126.66h-6.5 M81.00,139.90h-3.3 M81.00,153.14h-6.5 M81.00,166.38h-3.3 M81.00,179.62h-6.5 M81.00,192.86h-3.3 M81.00,206.10h-6.5 M81.00,219.34h-3.3 M81.00,232.58h-6.5 M81.00,245.82h-3.3 M81.00,259.06h-6.5 M81.00,272.30h-3.3 M81.00,285.54h-6.5 M81.00,298.78h-3.3 M81.00,312.02h-6.5 M81.00,325.26h-3.3 M81.00,338.50h-6.5 M531.50,7.50h-6.5 M531.50,21.89h-3.3 M531.50,36.28h-6.5 M531.50,50.67h-3.3 M531.50,65.07h-6.5 M531.50,79.46h-3.3 M531.50,93.85h-6.5 M531.50,108.24h-3.3 M531.50,122.63h-6.5 M531.50,137.02h-3.3 M531.50,151.41h-6.5 M531.50,165.80h-3.3 M531.50,180.20h-6.5 M531.50,194.59h-3.3 M531.50,208.98h-6.5 M531.50,223.37h-3.3 M531.50,237.76h-6.5 M531.50,252.15h-3.3 M531.50,266.54h-6.5 M531.50,280.93h-3.3 M531.50,295.33h-6.5 M531.50,309.72h-3.3 M531.50,324.11h-6.5 M531.50,338.50h-3.3" stroke="#000" stroke-width="1.6" fill="none"/><rect x="81.0" y="7.5" width="450.5" height="331.0" stroke="#000" stroke-width="1.6" fill="none"/>
<g font-family="Liberation Serif, serif" font-weight="bold" font-size="18.2" fill="#000"><text x="81.00" y="364.2" text-anchor="middle">82</text><text x="131.06" y="364.2" text-anchor="middle">84</text><text x="181.11" y="364.2" text-anchor="middle">86</text><text x="231.17" y="364.2" text-anchor="middle">88</text><text x="281.22" y="364.2" text-anchor="middle">90</text><text x="331.28" y="364.2" text-anchor="middle">92</text><text x="381.33" y="364.2" text-anchor="middle">94</text><text x="431.39" y="364.2" text-anchor="middle">96</text><text x="481.44" y="364.2" text-anchor="middle">98</text><text x="531.50" y="364.2" text-anchor="middle">100</text><text x="69.6" y="26.94" text-anchor="end">0</text><text x="69.6" y="53.42" text-anchor="end">-10</text><text x="69.6" y="79.90" text-anchor="end">-20</text><text x="69.6" y="106.38" text-anchor="end">-30</text><text x="69.6" y="132.86" text-anchor="end">-40</text><text x="69.6" y="159.34" text-anchor="end">-50</text><text x="69.6" y="185.82" text-anchor="end">-60</text><text x="69.6" y="212.30" text-anchor="end">-70</text><text x="69.6" y="238.78" text-anchor="end">-80</text><text x="69.6" y="265.26" text-anchor="end">-90</text><text x="69.6" y="291.74" text-anchor="end">-100</text><text x="69.6" y="318.22" text-anchor="end">-110</text><text x="69.6" y="344.70" text-anchor="end">-120</text></g>
<text x="300.4" y="392.6" text-anchor="middle" font-family="Liberation Serif, serif" font-weight="bold" font-size="19.5">Frequency(GHz)</text><text transform="translate(19.5,184.6) rotate(-90)" text-anchor="middle" font-family="Liberation Serif, serif" font-weight="bold" font-size="20.2">S parameters(dB)</text>
<path d="M276,223.4h10.3M299.4,223.4h10.6" stroke="#000" stroke-width="3" fill="none"/><text x="320.6" y="228.9" font-family="Liberation Serif, serif" font-weight="bold" font-size="18">tan&#952;=1&#176;</text><path d="M276,247.2h10.3M299.4,247.2h10.6" stroke="#00ff00" stroke-width="3" fill="none"/><text x="320.6" y="252.7" font-family="Liberation Serif, serif" font-weight="bold" font-size="18">tan&#952;=2&#176;</text><path d="M276,271.2h10.3M299.4,271.2h10.6" stroke="#0000ff" stroke-width="3" fill="none"/><text x="320.6" y="276.7" font-family="Liberation Serif, serif" font-weight="bold" font-size="18">tan&#952;=3&#176;</text><path d="M276,295.2h10.3M299.4,295.2h10.6" stroke="#ff00ff" stroke-width="3" fill="none"/><text x="320.6" y="300.7" font-family="Liberation Serif, serif" font-weight="bold" font-size="18">tan&#952;=4&#176;</text><path d="M276,319.2H315.6" stroke="#ff0000" stroke-width="3" fill="none"/><text x="320.6" y="324.7" font-family="Liberation Serif, serif" font-weight="bold" font-size="18">tan&#952;=0&#176;</text>
</svg>
</body></html>
